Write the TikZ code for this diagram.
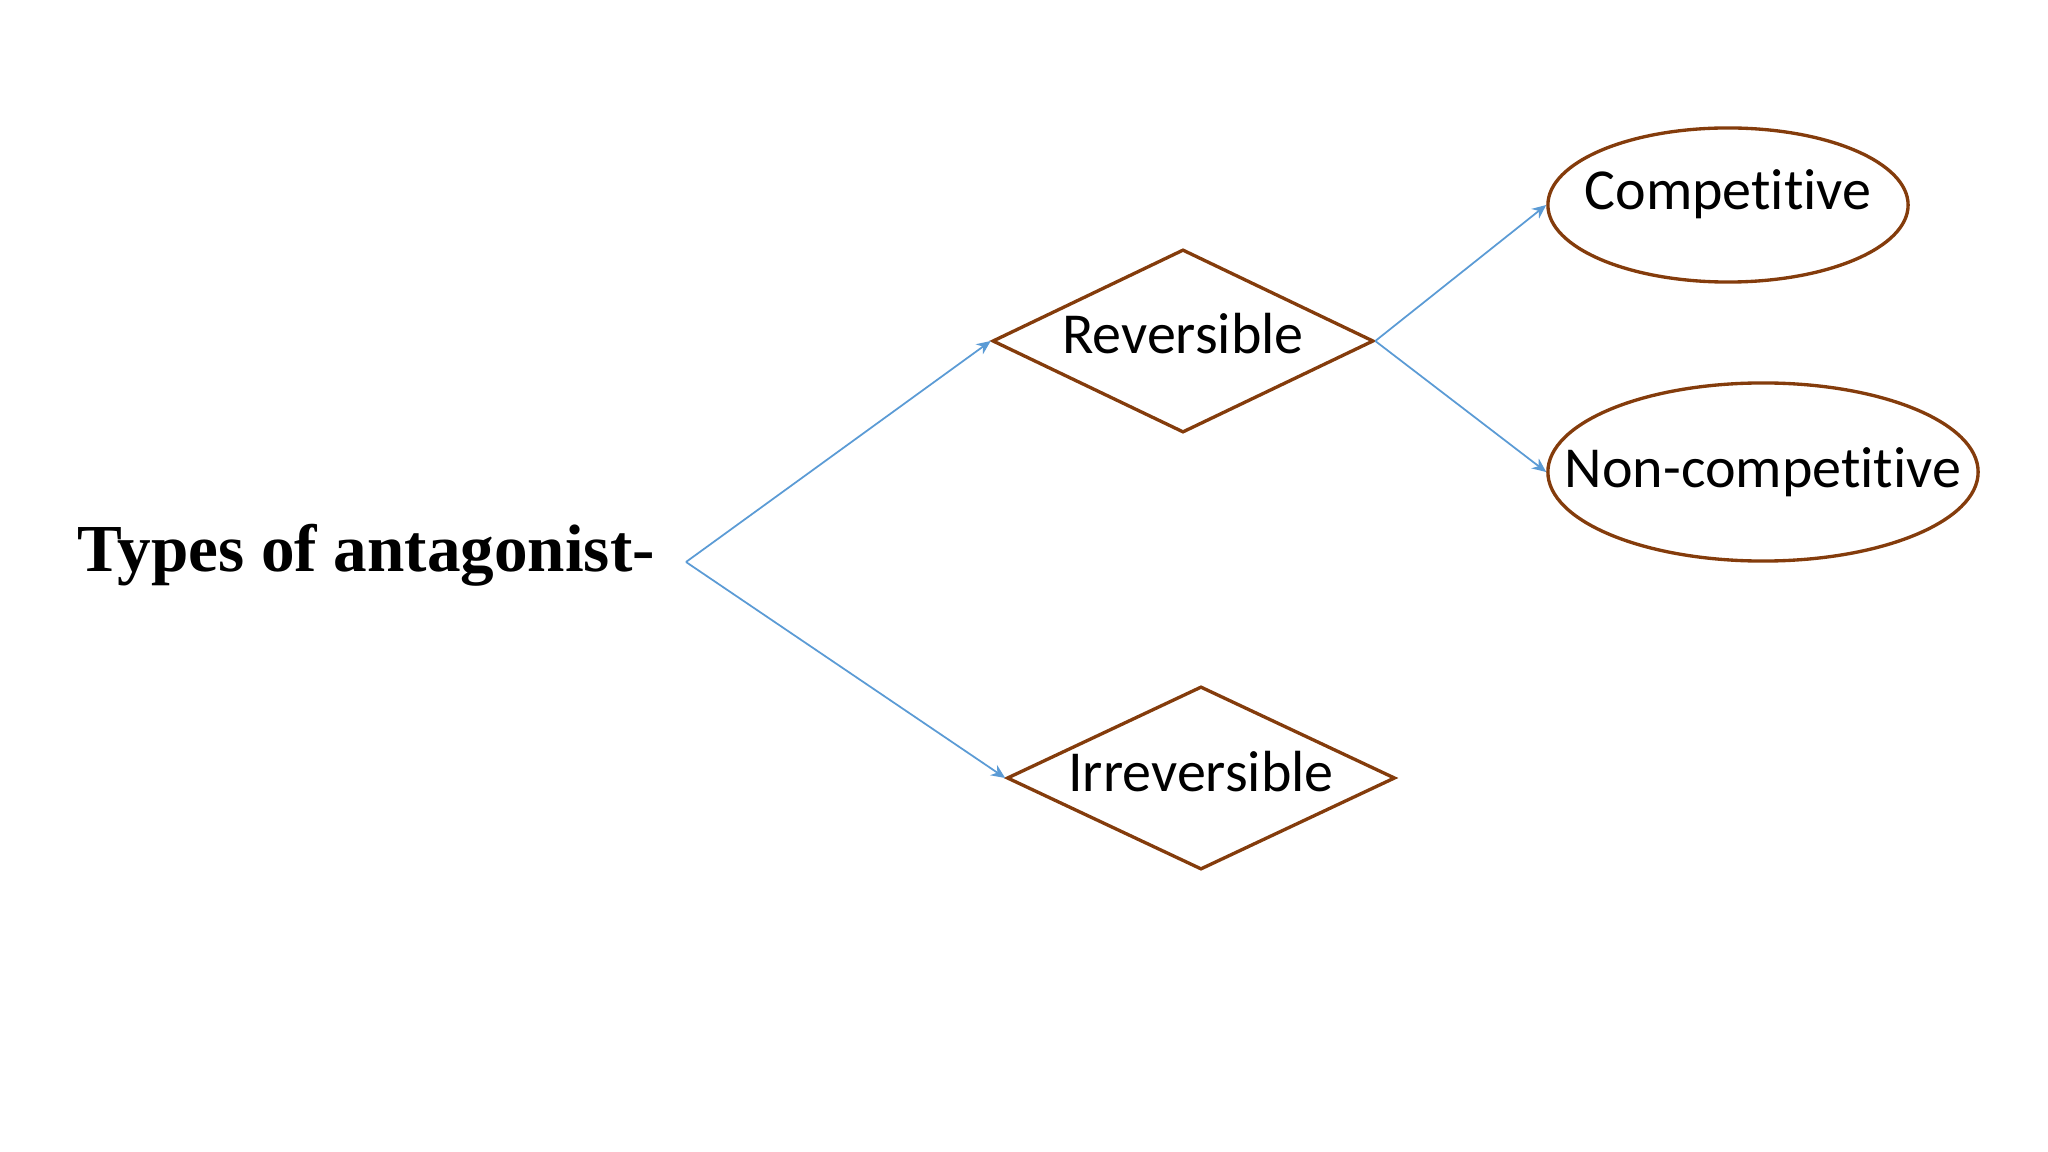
\documentclass[tikz,border=0pt]{standalone}
\usepackage{fontspec}
\setmainfont{Carlito}[Ligatures=NoCommon]
\newfontfamily\titlefont{Liberation Serif}
\usetikzlibrary{arrows.meta,shapes}

\definecolor{shapebrown}{HTML}{843C0C}
\definecolor{arrowblue}{HTML}{5B9BD5}

\begin{document}
\begin{tikzpicture}[x=0.01cm,y=-0.01cm]
  \useasboundingbox (0,0) rectangle (2048,1152);
  \node[anchor=base west,inner sep=0pt,font=\titlefont\bfseries\fontsize{19.1}{23}\selectfont] (title) at (77,571) {Types of antagonist-};
  \coordinate (fork) at (686,562);
  \begin{scope}[every node/.style={draw=shapebrown,line width=0.95pt,inner sep=0pt,font=\fontsize{16.5}{20}\selectfont}]
    \node[diamond,shape aspect=2.1,inner xsep=-0.1cm,text depth=0.16cm,minimum width=3.81cm,minimum height=1.83cm] (rev) at (1183,341) {Reversible};
    \node[diamond,shape aspect=2.1,inner xsep=-0.1cm,text depth=0.14cm,minimum width=3.88cm,minimum height=1.83cm] (irr) at (1201,778) {Irreversible};
    \node[ellipse,inner xsep=-0.6cm,text depth=0.3cm,minimum width=3.6cm,minimum height=1.54cm] (comp) at (1728,205) {Competitive};
    \node[ellipse,inner xsep=-0.6cm,minimum width=4.3cm,minimum height=1.78cm] (noncomp) at (1763,472) {Non-competitive};
  \end{scope}
  \begin{scope}[>={Stealth[arrowblue,length=4pt,width=3.5pt]},every edge/.style={draw=arrowblue,line width=0.5pt}]
    \path[->] (fork) edge (rev.west);
    \path[->] (fork) edge (irr.west);
    \path[->] (rev.east) edge (comp.west);
    \path[->] (rev.east) edge (noncomp.west);
  \end{scope}
\end{tikzpicture}
\end{document}
